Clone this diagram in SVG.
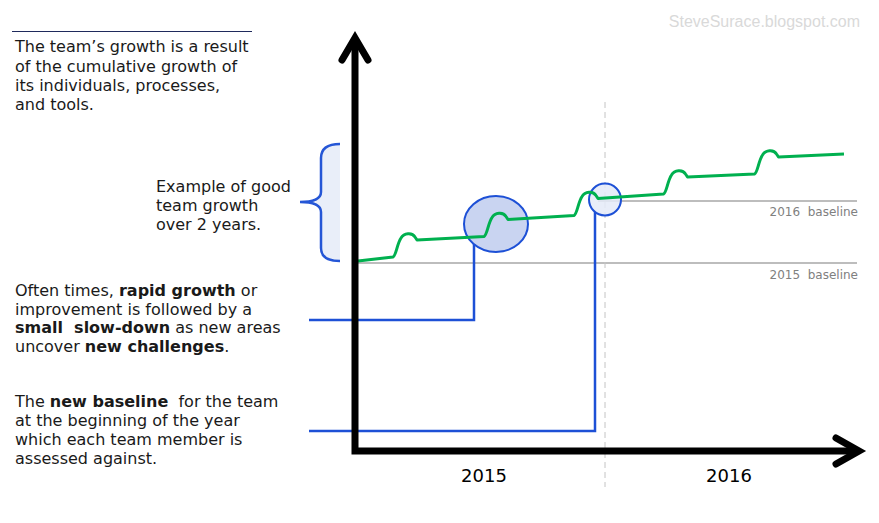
<svg xmlns="http://www.w3.org/2000/svg" width="879" height="523" viewBox="0 0 879 523">
<style>
text{font-family:"DejaVu Sans",Verdana,sans-serif;font-size:16px;fill:#1a1a1a}
.b{font-weight:bold}
.pre{white-space:pre}
.bl{font-size:12px;fill:#808080;text-anchor:end}
.yr{font-size:18px;fill:#000;text-anchor:middle}
.wm{font-family:"Liberation Sans",Arial,sans-serif;font-size:16px;fill:#d9d9d9}
.axis{fill:none;stroke:#000;stroke-width:7;stroke-linejoin:miter}
.head{stroke-linecap:round}
.base{stroke:#bdbdbd;stroke-width:2}
.conn{fill:none;stroke:#1d50d6;stroke-width:2.5}
.hl{stroke:#1d50d6;stroke-width:2}
</style>
<rect width="879" height="523" fill="#fff"/>

<g id="watermark"><text class="wm" x="860" y="27" text-anchor="end">SteveSurace.blogspot.com</text></g>

<g id="note-top">
<line x1="12" y1="31.5" x2="252" y2="31.5" stroke="#1f2a5c" stroke-width="1"/>
<text x="15" y="52">The team’s growth is a result</text>
<text x="15" y="72">of the cumulative growth of</text>
<text x="15" y="91">its individuals, processes,</text>
<text x="15" y="110">and tools.</text>
</g>

<g id="note-brace">
<path d="M340,144 Q321,144 321,158 L321,192 Q321,202 300,202 Q321,202 321,212 L321,248 Q321,261 340,261 Z" fill="#e9eef9" stroke="none"/>
<path d="M340,144 Q321,144 321,158 L321,192 Q321,202 300,202 Q321,202 321,212 L321,248 Q321,261 340,261" fill="none" stroke="#2556d6" stroke-width="2.5"/>
<text x="156" y="192">Example of good</text>
<text x="156" y="211">team growth</text>
<text x="156" y="230">over 2 years.</text>
</g>

<g id="note-slowdown">
<text x="15" y="296">Often times, <tspan class="b">rapid growth</tspan> or</text>
<text x="15" y="315">improvement is followed by a</text>
<text x="15" y="333" class="pre"><tspan class="b">small  slow-down</tspan> as new areas</text>
<text x="15" y="352">uncover <tspan class="b">new challenges</tspan>.</text>
</g>

<g id="note-baseline">
<text x="15" y="407" class="pre">The <tspan class="b">new baseline</tspan>  for the team</text>
<text x="15" y="426">at the beginning of the year</text>
<text x="15" y="445">which each team member is</text>
<text x="15" y="464">assessed against.</text>
</g>

<g id="baselines">
<line class="base" x1="358" y1="263" x2="857" y2="263"/>
<line class="base" x1="598" y1="201" x2="857" y2="201"/>
<text class="bl pre" x="858" y="216">2016  baseline</text>
<text class="bl pre" x="858" y="279">2015  baseline</text>
</g>

<g id="year-divider">
<line x1="605" y1="102" x2="605" y2="487" stroke="#c4c4c4" stroke-width="1" stroke-dasharray="6 4"/>
</g>

<g id="highlights">
<ellipse class="hl" cx="496" cy="224" rx="32" ry="28" fill="#c9d4f1"/>
<circle class="hl" cx="605" cy="199.5" r="16" fill="#e4eaf8" fill-opacity="0.85"/>
</g>

<g id="growth-line">
<path fill="none" stroke="#00b04f" stroke-width="3" stroke-linejoin="round"
d="M358,261 L393,257 C396,256 397,244 401,238 C404,233 412,232 415,237 L417,240
L484,236.5 C487,235.5 488,223.5 492,217.5 C495,212.5 503,211.5 506,216.5 L508,219.5
L574,215.5 C577,214.5 578,202.5 582,196.5 C585,191.5 593,190.5 596,195.5 L598,198.5
L663.5,194 C666.5,193 667.5,181 671.5,175 C674.5,170 682.5,169 685.5,174 L687.5,177
L754.5,174 C757.5,173 758.5,161 762.5,155 C765.5,150 773.5,149 776.5,154 L778.5,157
L844,154"/>
</g>

<g id="connectors">
<path class="conn" d="M309,320 L474,320 L474,244"/>
<path class="conn" d="M309,431 L595,431 L595,212"/>
</g>

<g id="axes">
<path class="axis" d="M355,38 L355,451 L859,451"/>
<path class="axis head" d="M342,60 L355,38 L368,60"/>
<path class="axis head" d="M836,438 L859,451 L836,464"/>
</g>

<g id="year-labels">
<text class="yr" x="484" y="482">2015</text>
<text class="yr" x="729" y="482">2016</text>
</g>
</svg>
